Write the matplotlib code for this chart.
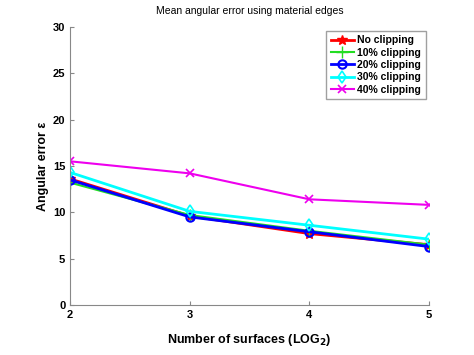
import numpy as np
from matplotlib import pyplot as plt

# --- donnees ---
surfaces = [2, 3, 4, 5]
no_clip = [13.6, 9.6, 7.7, 6.5]
clip10 = [13.2, 9.7, 8.0, 6.5]
clip20 = [13.5, 9.5, 7.9, 6.3]
clip30 = [14.3, 10.1, 8.6, 7.1]
clip40 = [15.5, 14.2, 11.4, 10.8]
labels = ['No clipping', '10% clipping', '20% clipping', '30% clipping', '40% clipping']

plt.rcParams['font.family'] = ['Liberation Sans', 'DejaVu Sans']
fig = plt.figure(figsize=(4.74, 3.55), dpi=100)
ax = fig.add_axes([0.148, 0.141, 0.757, 0.783])

ax.plot(surfaces, no_clip, 'r-*', lw=2, ms=7, label=labels[0])
ax.plot(surfaces, clip10, '-+', color='#22dd22', lw=1.5, ms=8, label=labels[1])
ax.plot(surfaces, clip20, 'b-o', lw=2, ms=6, mfc='none', mew=1.5, label=labels[2])
ax.plot(surfaces, clip30, 'c-d', color='#00ffff', lw=2, ms=6, mfc='none', mew=1.2, label=labels[3])
ax.plot(surfaces, clip40, 'x-', color='#ee00ee', lw=1.5, ms=6, mew=1.2, label=labels[4])

ax.set_xlim(2, 5)
ax.set_ylim(0, 30)
ax.set_xticks([2, 3, 4, 5])
ax.set_yticks(np.arange(0, 31, 5))
for s in ['top', 'right']:
    ax.spines[s].set_visible(False)
for s in ['left', 'bottom']:
    ax.spines[s].set_color('#888888')
ax.tick_params(direction='in', colors='#888888', labelcolor='black', labelsize=8, length=3)
for t in ax.get_xticklabels() + ax.get_yticklabels():
    t.set_fontweight('bold')

ax.set_title('Mean angular error using material edges', fontsize=7.5, pad=9)
ax.set_xlabel('Number of surfaces (LOG$_\\mathbf{2}$)', fontsize=9, fontweight='bold', labelpad=9)
ax.set_ylabel('Angular error \u03b5', fontsize=9, fontweight='bold', labelpad=3)

leg = ax.legend(loc='upper right', prop={'weight': 'bold', 'size': 7.5},
                fancybox=False, edgecolor='#888888', handlelength=2.2, borderpad=0.45,
                labelspacing=0.22, handletextpad=0.3, bbox_to_anchor=(1.005, 1.005))

plt.savefig('out.png', dpi=100)
